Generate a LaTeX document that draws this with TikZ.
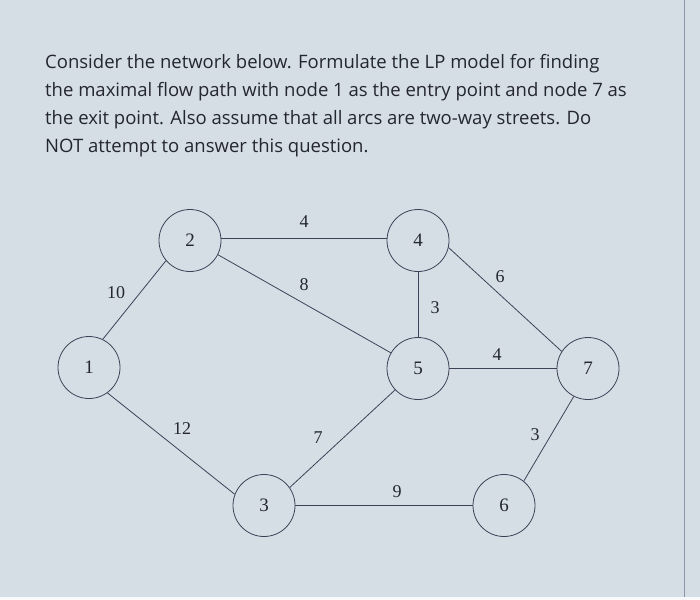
\documentclass[tikz,border=0pt]{standalone}
\usepackage{fontspec}
\setmainfont{Open Sans}
\newfontfamily\nodefont{Liberation Serif}
\definecolor{bgc}{RGB}{212,222,228}
\definecolor{txt}{RGB}{36,38,50}
\definecolor{ln}{RGB}{62,66,88}
\definecolor{edgec}{RGB}{140,150,170}
\begin{document}
\begin{tikzpicture}[x=1pt,y=-1pt,
  vert/.style={circle,draw=ln,line width=0.8pt,minimum size=62pt,inner sep=0pt,
    font=\nodefont\fontsize{19}{19}\selectfont,text=txt},
  arc/.style={draw=ln,line width=0.8pt},
  wt/.style={font=\nodefont\fontsize{18}{18}\selectfont,text=txt,inner sep=0pt},
  para/.style={anchor=base west,inner sep=0pt,font=\fontsize{18.5}{18.5}\selectfont,text=txt}]
\fill[bgc] (0,0) rectangle (700,599);
\draw[edgec,line width=1pt] (684,0) -- (684,596);
\fill[white!85!bgc] (0,596) rectangle (700,599);
\useasboundingbox (0,0) rectangle (700,599);

\node[para] (l1) at (45,68) {Consider the network below. Formulate the LP model for finding};
\node[para] (l2) at (45,96) {the maximal flow path with node 1 as the entry point and node 7 as};
\node[para] (l3) at (45,124) {the exit point. Also assume that all arcs are two-way streets. Do};
\node[para] (l4) at (45,152) {NOT attempt to answer this question.};

\node[vert] (n1) at (89,367) {1};
\node[vert] (n2) at (190,240) {2};
\node[vert] (n3) at (264,505) {3};
\node[vert] (n4) at (418,240) {4};
\node[vert] (n5) at (418,368) {5};
\node[vert] (n6) at (504,505) {6};
\node[vert] (n7) at (588,368) {7};

\draw[arc] (n1.64) -- (n2.220);
\draw[arc] (n1.-54) -- (n3.159);
\draw[arc] (n2.3) -- (n4.177);
\draw[arc] (n2.-27) -- (n5.150);
\draw[arc] (n4.south) -- (n5.north);
\draw[arc] (n4.-13) -- (n7.147);
\draw[arc] (n5.east) -- (n7.west);
\draw[arc] (n3.35) -- (n5.223);
\draw[arc] (n3.east) -- (n6.west);
\draw[arc] (n6.51) -- (n7.-117);

\node[wt] (w12) at (116,292) {10};
\node[wt] (w24) at (304,221) {4};
\node[wt] (w25) at (304,284) {8};
\node[wt] (w47) at (500,276) {6};
\node[wt] (w45) at (435,307) {3};
\node[wt] (w57) at (497,354) {4};
\node[wt] (w13) at (182,428) {12};
\node[wt] (w35) at (318,437) {7};
\node[wt] (w36) at (397,491) {9};
\node[wt] (w67) at (535,434) {3};
\end{tikzpicture}
\end{document}
